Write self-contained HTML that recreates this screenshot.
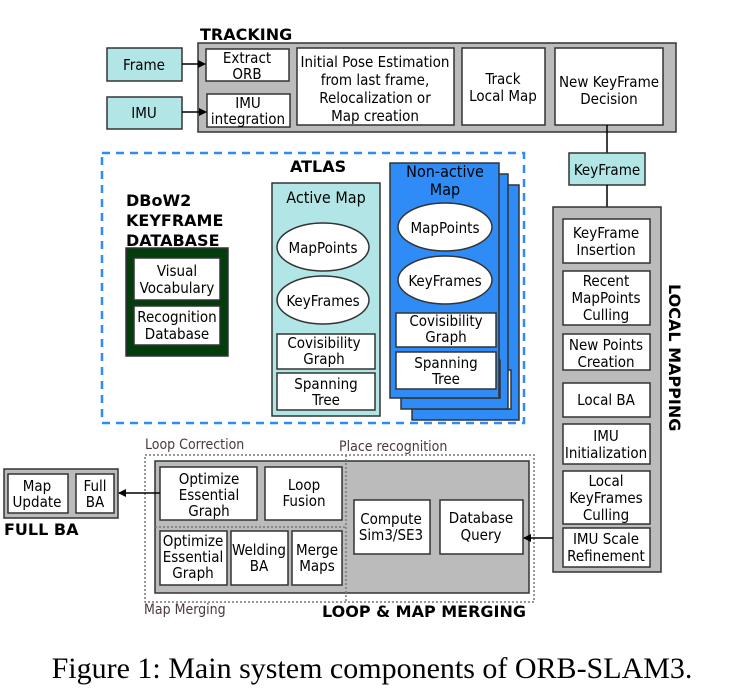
<!DOCTYPE html>
<html><head><meta charset="utf-8"><style>
html,body{margin:0;padding:0;background:#fff;}
svg{display:block;}
text{font-family:"DejaVu Sans Condensed","DejaVu Sans",sans-serif;font-size:15px;fill:#000;}
.b{font-family:"DejaVu Sans",sans-serif;font-weight:bold;font-size:16px;}
.s{font-size:14px;fill:#4a3a3a;}
</style></head><body>
<svg width="732" height="693" viewBox="0 0 732 693" xmlns="http://www.w3.org/2000/svg">
<defs><marker id="a" markerWidth="8" markerHeight="8" refX="7" refY="4" orient="auto" markerUnits="userSpaceOnUse"><path d="M0,0 L8,4 L0,8 z" fill="#000"/></marker></defs>
<g stroke="#333" stroke-width="1.5">
<rect x="198" y="43" width="478" height="89" fill="#bbb"/>
<rect x="107" y="48" width="75" height="33" fill="#b2e6e6"/>
<rect x="107" y="97" width="75" height="32" fill="#b2e6e6"/>
<rect x="206" y="49" width="83" height="32" fill="#fff"/>
<rect x="207" y="94" width="83" height="33" fill="#fff"/>
<rect x="297" y="48" width="157" height="77" fill="#fff"/>
<rect x="462" y="48" width="83" height="77" fill="#fff"/>
<rect x="555" y="48" width="108" height="77" fill="#fff"/>
<line x1="182" y1="64" x2="205" y2="64" stroke="#000" marker-end="url(#a)"/>
<line x1="182" y1="112" x2="206" y2="112" stroke="#000" marker-end="url(#a)"/>
<line x1="607" y1="125" x2="607" y2="153" stroke="#000"/>
<rect x="569" y="153" width="76" height="32" fill="#b2e6e6"/>
<line x1="607" y1="185" x2="607" y2="218" stroke="#000" marker-end="url(#a)"/>
<rect x="553" y="207" width="108" height="365" fill="#bbb"/>
<rect x="563" y="219" width="87" height="44" fill="#fff"/>
<rect x="563" y="271" width="87" height="54" fill="#fff"/>
<rect x="563" y="334" width="87" height="36" fill="#fff"/>
<rect x="563" y="383" width="87" height="34" fill="#fff"/>
<rect x="563" y="424" width="87" height="40" fill="#fff"/>
<rect x="563" y="471" width="87" height="53" fill="#fff"/>
<rect x="563" y="528" width="87" height="39" fill="#fff"/>
<rect x="102" y="153" width="422" height="270" fill="none" stroke="#2f8cf7" stroke-width="2.5" stroke-dasharray="8,6"/>
<rect x="126" y="248" width="102" height="108" fill="#033d0c"/>
<rect x="134" y="258" width="86" height="42" fill="#fff"/>
<rect x="134" y="306" width="86" height="39" fill="#fff"/>
<rect x="272" y="183" width="108" height="233" fill="#b2e6e6"/>
<ellipse cx="323" cy="247" rx="46" ry="24" fill="#fff"/>
<ellipse cx="323" cy="300" rx="46" ry="24" fill="#fff"/>
<rect x="277" y="334" width="98" height="35" fill="#fff"/>
<rect x="277" y="373" width="98" height="37" fill="#fff"/>
<rect x="412" y="185" width="107" height="235" fill="#2f8cf7"/>
<rect x="416" y="370" width="95" height="39" fill="#fff"/>
<rect x="401" y="174" width="107" height="235" fill="#2f8cf7"/>
<rect x="405" y="360" width="95" height="38" fill="#fff"/>
<rect x="390" y="163" width="109" height="235" fill="#2f8cf7"/>
<ellipse cx="445" cy="227" rx="47" ry="24" fill="#fff"/>
<ellipse cx="445" cy="280" rx="47" ry="24" fill="#fff"/>
<rect x="396" y="313" width="100" height="34" fill="#fff"/>
<rect x="396" y="352" width="100" height="37" fill="#fff"/>
<rect x="155" y="461" width="374" height="132" fill="#bbb"/>
<rect x="145" y="455" width="389" height="147" fill="none" stroke="#777" stroke-dasharray="2,2"/>
<line x1="346" y1="455" x2="346" y2="602" stroke="#777" stroke-dasharray="2,2"/>
<line x1="155" y1="527" x2="346" y2="527" stroke="#777" stroke-dasharray="2,2"/>
<rect x="160" y="467" width="97" height="53" fill="#fff"/>
<rect x="265" y="467" width="77" height="53" fill="#fff"/>
<rect x="160" y="531" width="67" height="54" fill="#fff"/>
<rect x="231" y="531" width="57" height="54" fill="#fff"/>
<rect x="292" y="531" width="50" height="54" fill="#fff"/>
<rect x="354" y="500" width="76" height="54" fill="#fff"/>
<rect x="440" y="500" width="83" height="54" fill="#fff"/>
<rect x="4" y="469" width="114" height="49" fill="#bbb"/>
<rect x="8" y="474" width="60" height="39" fill="#fff"/>
<rect x="76" y="474" width="38" height="39" fill="#fff"/>
<line x1="160" y1="493" x2="119" y2="493" stroke="#000" marker-end="url(#a)"/>
<line x1="553" y1="538" x2="524" y2="538" stroke="#000" marker-end="url(#a)"/>
</g>
<g text-anchor="middle">
<text x="144" y="70">Frame</text>
<text x="144" y="118">IMU</text>
<text x="247" y="63">Extract</text><text x="247" y="79">ORB</text>
<text x="248" y="108">IMU</text><text x="248" y="124">integration</text>
<text x="375" y="67">Initial Pose Estimation</text><text x="375" y="85">from last frame,</text><text x="375" y="103">Relocalization or</text><text x="375" y="121">Map creation</text>
<text x="503" y="84">Track</text><text x="503" y="101">Local Map</text>
<text x="609" y="87">New KeyFrame</text><text x="609" y="104">Decision</text>
<text x="607" y="175">KeyFrame</text>
<text x="606" y="238">KeyFrame</text><text x="606" y="255">Insertion</text>
<text x="606" y="286">Recent</text><text x="606" y="303">MapPoints</text><text x="606" y="320">Culling</text>
<text x="606" y="350">New Points</text><text x="606" y="367">Creation</text>
<text x="606" y="405">Local BA</text>
<text x="606" y="441">IMU</text><text x="606" y="458">Initialization</text>
<text x="606" y="486">Local</text><text x="606" y="503">KeyFrames</text><text x="606" y="520">Culling</text>
<text x="606" y="544">IMU Scale</text><text x="606" y="561">Refinement</text>
<text x="177" y="276">Visual</text><text x="177" y="293">Vocabulary</text>
<text x="177" y="322">Recognition</text><text x="177" y="339">Database</text>
<text x="326" y="203" style="font-size:16px">Active Map</text>
<text x="323" y="253">MapPoints</text>
<text x="323" y="306">KeyFrames</text>
<text x="324" y="348">Covisibility</text><text x="324" y="364">Graph</text>
<text x="326" y="389">Spanning</text><text x="326" y="405">Tree</text>
<text x="445" y="177" style="font-size:16px">Non-active</text><text x="445" y="195" style="font-size:16px">Map</text>
<text x="445" y="233">MapPoints</text>
<text x="445" y="286">KeyFrames</text>
<text x="446" y="326">Covisibility</text><text x="446" y="342">Graph</text>
<text x="446" y="368">Spanning</text><text x="446" y="384">Tree</text>
<text x="209" y="484">Optimize</text><text x="209" y="500">Essential</text><text x="209" y="516">Graph</text>
<text x="304" y="490">Loop</text><text x="304" y="506">Fusion</text>
<text x="193" y="546">Optimize</text><text x="193" y="562">Essential</text><text x="193" y="578">Graph</text>
<text x="259" y="555">Welding</text><text x="259" y="571">BA</text>
<text x="317" y="555">Merge</text><text x="317" y="571">Maps</text>
<text x="391" y="524">Compute</text><text x="391" y="540">Sim3/SE3</text>
<text x="481" y="523">Database</text><text x="481" y="540">Query</text>
<text x="37" y="491">Map</text><text x="37" y="507">Update</text>
<text x="95" y="491">Full</text><text x="95" y="507">BA</text>
</g>
<text class="b" x="200" y="40">TRACKING</text>
<text class="b" x="290" y="172">ATLAS</text>
<text class="b" x="126" y="206">DBoW2</text>
<text class="b" x="126" y="226">KEYFRAME</text>
<text class="b" x="126" y="246">DATABASE</text>
<text class="b" x="4" y="535">FULL BA</text>
<text class="b" x="322" y="617">LOOP &amp; MAP MERGING</text>
<text class="b" transform="translate(669,284) rotate(90)">LOCAL MAPPING</text>
<text class="s" x="145" y="449">Loop Correction</text>
<text class="s" x="339" y="451">Place recognition</text>
<text class="s" x="144" y="614">Map Merging</text>
<text x="372" y="678" text-anchor="middle" style="font-family:'Liberation Serif',serif;font-size:30px">Figure 1: Main system components of ORB-SLAM3.</text>
</svg>
</body></html>
